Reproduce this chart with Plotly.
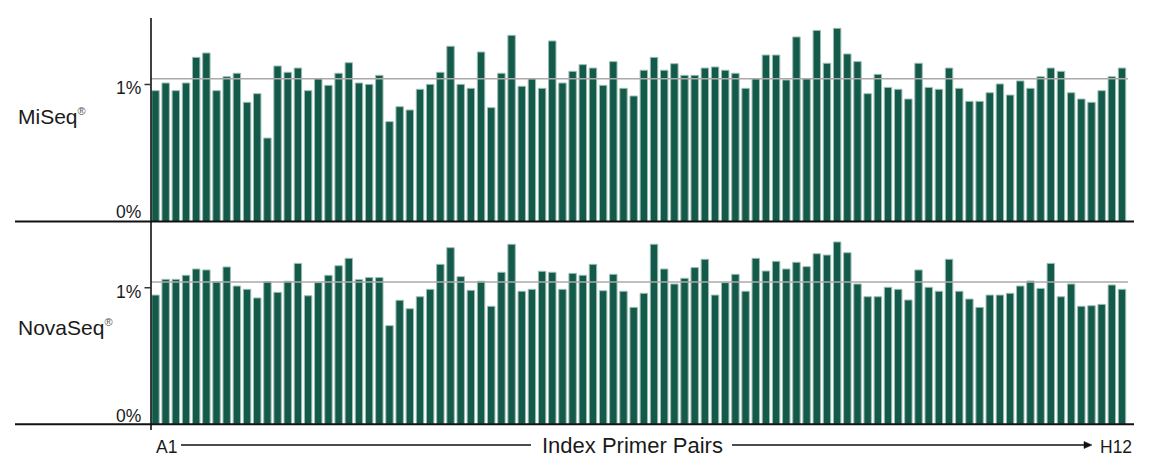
import plotly.graph_objects as go

# ---- data (percentage of reads per index primer pair, 96 pairs A1..H12) ----
wells = [f"{r}{c}" for r in "ABCDEFGH" for c in range(1, 13)]

miseq = [0.955, 1.011, 0.955, 1.011, 1.198, 1.230, 0.955, 1.057, 1.082, 0.870,
         0.933, 0.609, 1.135, 1.089, 1.120, 0.955, 1.042, 0.994, 1.082, 1.159,
         1.011, 1.001, 1.067, 0.729, 0.838, 0.814, 0.965, 1.001, 1.089, 1.279,
         1.001, 0.972, 1.237, 0.831, 1.082, 1.359, 0.987, 1.042, 0.972, 1.318,
         1.011, 1.096, 1.145, 1.120, 0.994, 1.167, 0.972, 0.916, 1.104, 1.198,
         1.104, 1.152, 1.067, 1.067, 1.120, 1.128, 1.104, 1.082, 0.972, 1.042,
         1.215, 1.215, 1.033, 1.347, 1.042, 1.395, 1.155, 1.410, 1.223, 1.167,
         0.933, 1.074, 0.979, 0.965, 0.894, 1.155, 0.979, 0.965, 1.120, 0.972,
         0.877, 0.877, 0.940, 1.004, 0.923, 1.026, 0.972, 1.057, 1.120, 1.096,
         0.940, 0.894, 0.870, 0.955, 1.057, 1.120]

novaseq = [0.946, 1.061, 1.061, 1.091, 1.137, 1.130, 1.044, 1.152, 1.012, 0.988,
           0.925, 1.044, 0.966, 1.047, 1.178, 0.941, 1.037, 1.091, 1.161, 1.215,
           1.059, 1.074, 1.074, 0.722, 0.908, 0.846, 0.934, 0.988, 1.171, 1.293,
           1.081, 0.981, 1.047, 0.864, 1.113, 1.318, 0.974, 0.988, 1.120, 1.113,
           0.988, 1.105, 1.091, 1.171, 0.978, 1.098, 0.974, 0.856, 0.959, 1.318,
           1.137, 1.027, 1.069, 1.147, 1.208, 0.946, 1.037, 1.098, 0.974, 1.215,
           1.122, 1.193, 1.137, 1.186, 1.154, 1.249, 1.239, 1.335, 1.256, 1.027,
           0.934, 0.934, 1.003, 0.988, 0.910, 1.130, 1.003, 0.974, 1.208, 0.974,
           0.917, 0.856, 0.946, 0.946, 0.959, 1.012, 1.049, 0.995, 1.178, 0.934,
           1.027, 0.864, 0.868, 0.878, 1.020, 0.988]

expected = 100 / 96  # even share per pair, drawn as the grey reference line
panel_names = ["MiSeq", "NovaSeq"]
tick_labels = ["0%", "1%"]

# ---- layout helpers (window pixel -> paper); page body has an 8px margin ----
OFF = 8
W, H = 1153 - 2 * OFF, 474 - 2 * OFF
def px(x):
    return (x - OFF) / W
def py(y):
    return 1 - (y - OFF) / H

BAR = "#135a4a"
EDGE = "#9dbdb2"
FONT = "Liberation Sans, Arial, Helvetica, sans-serif"
REG = '<sup><span style="font-size:11px;color:#555555">®</span></sup>'

fig = go.Figure()
fig.add_trace(go.Bar(x=wells, y=miseq, xaxis="x", yaxis="y",
                     marker=dict(color=BAR, line=dict(color=EDGE, width=1)),
                     showlegend=False))
fig.add_trace(go.Bar(x=wells, y=novaseq, xaxis="x2", yaxis="y2",
                     marker=dict(color=BAR, line=dict(color=EDGE, width=1)),
                     showlegend=False))

x_dom = [px(150.4), px(1127.1)]
top_base, top_top = 221.5, 18
bot_base, bot_top = 424.3, 221.5
top_scale, bot_scale = 137.0, 136.6

ax_common = dict(showgrid=False, zeroline=False, showline=False, showticklabels=False,
                 ticks="", fixedrange=True)
fig.update_layout(
    width=W, height=H,
    margin=dict(l=0, r=0, t=0, b=0),
    paper_bgcolor="white", plot_bgcolor="white",
    bargap=0.27,
    font=dict(family=FONT, color="#1a1a1a"),
    xaxis=dict(domain=x_dom, anchor="y", range=[-0.5, 95.5], type="category", **ax_common),
    xaxis2=dict(domain=x_dom, anchor="y2", range=[-0.5, 95.5], type="category", **ax_common),
    yaxis=dict(domain=[py(top_base), py(top_top)], anchor="x",
               range=[0, (top_base - top_top) / top_scale], **ax_common),
    yaxis2=dict(domain=[py(bot_base), py(bot_top)], anchor="x2",
                range=[0, (bot_base - bot_top) / bot_scale], **ax_common),
)

shapes = []
# grey expected-share lines (above bars)
for yr in ["y", "y2"]:
    shapes.append(dict(type="line", xref="paper", yref=yr, x0=px(151), x1=px(1128),
                       y0=expected, y1=expected, line=dict(color="#aaaaaa", width=1.6),
                       layer="above"))
# baselines
for yb in [top_base, bot_base]:
    shapes.append(dict(type="line", xref="paper", yref="paper", x0=px(15), x1=px(1134),
                       y0=py(yb), y1=py(yb), line=dict(color="#111111", width=2)))
# vertical axis line
shapes.append(dict(type="line", xref="paper", yref="paper", x0=px(151), x1=px(151),
                   y0=py(18), y1=py(430), line=dict(color="#111111", width=1.6)))
# 1% ticks
for yr in ["y", "y2"]:
    shapes.append(dict(type="line", xref="paper", yref=yr, x0=px(144.5), x1=px(151),
                       y0=1, y1=1, line=dict(color="#333333", width=1.6)))
# arrow lines at bottom
shapes.append(dict(type="line", xref="paper", yref="paper", x0=px(181), x1=px(531),
                   y0=py(445), y1=py(445), line=dict(color="#111111", width=1.3)))
shapes.append(dict(type="line", xref="paper", yref="paper", x0=px(732), x1=px(1086),
                   y0=py(445), y1=py(445), line=dict(color="#111111", width=1.3)))
shapes.append(dict(type="path", xref="paper", yref="paper",
                   path=f"M {px(1084)},{py(441.5)} L {px(1092)},{py(445)} L {px(1084)},{py(448.5)} Z",
                   fillcolor="#111111", line=dict(color="#111111", width=0.5)))
fig.update_layout(shapes=shapes)

ann = []
# panel names
ann.append(dict(text=panel_names[0] + REG, x=px(16), y=py(116), xref="paper", yref="paper",
                xanchor="left", yanchor="middle", showarrow=False,
                font=dict(size=21, family=FONT, color="#1a1a1a")))
ann.append(dict(text=panel_names[1] + REG, x=px(16), y=py(327), xref="paper", yref="paper",
                xanchor="left", yanchor="middle", showarrow=False,
                font=dict(size=21, family=FONT, color="#1a1a1a")))
# tick labels
for lab, yy in [(tick_labels[1], 87.5), (tick_labels[0], 212), (tick_labels[1], 291.5), (tick_labels[0], 415.5)]:
    ann.append(dict(text=lab, x=px(142.5), y=py(yy), xref="paper", yref="paper",
                    xanchor="right", yanchor="middle", showarrow=False,
                    font=dict(size=17.5, family=FONT, color="#1a1a1a")))
# x labels
ann.append(dict(text=wells[0], x=px(154), y=py(447), xref="paper", yref="paper",
                xanchor="left", yanchor="middle", showarrow=False,
                font=dict(size=17.5, family=FONT, color="#1a1a1a")))
ann.append(dict(text=wells[-1], x=px(1134), y=py(447), xref="paper", yref="paper",
                xanchor="right", yanchor="middle", showarrow=False,
                font=dict(size=17.5, family=FONT, color="#1a1a1a")))
ann.append(dict(text="Index Primer Pairs", x=px(632), y=py(445), xref="paper", yref="paper",
                xanchor="center", yanchor="middle", showarrow=False,
                font=dict(size=22, family=FONT, color="#1a1a1a")))
fig.update_layout(annotations=ann)

fig.write_html("out.html")
